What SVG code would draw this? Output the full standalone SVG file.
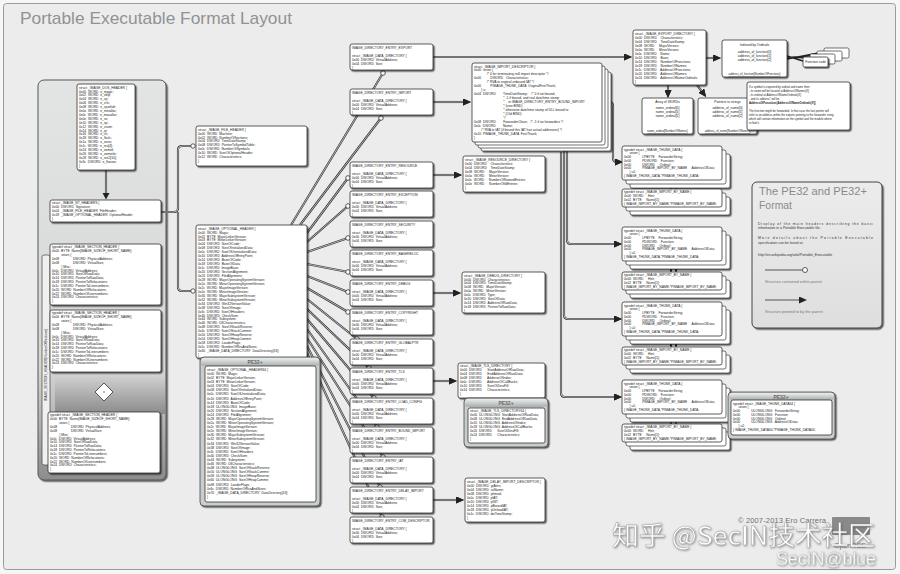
<svg xmlns="http://www.w3.org/2000/svg" width="900" height="574" viewBox="0 0 900 574">
<defs>
<style>
.t{font-family:"Liberation Sans",Arial,sans-serif;font-size:3.3px;fill:#222;white-space:pre}
.ts{font-size:2.8px}
.bx{fill:#fff;stroke:#333;stroke-width:.8}
.sh{filter:url(#sh)}
.ly{fill:#fff;stroke:#333;stroke-width:.7}
.c1{fill:none;stroke:#333;stroke-width:2.1}
.c2{fill:none;stroke:#eee;stroke-width:.7}
.a1{fill:none;stroke:#333;stroke-width:2.1;marker-end:url(#ah)}
.a2{fill:none;stroke:#eee;stroke-width:.7;marker-end:url(#ah)}
.s1{fill:none;stroke:#333;stroke-width:.8;marker-end:url(#as)}
.dt{fill:#fff;stroke:#333;stroke-width:.8}
.pc{fill:#c9cdcd;stroke:#444;stroke-width:.8}
.pt{font-family:"Liberation Sans",Arial,sans-serif;font-size:5px;font-weight:bold;fill:#6a6a6a;text-anchor:middle}
.lg{font-family:"Liberation Sans",Arial,sans-serif;font-size:3.5px;fill:#333}
.ll{font-family:"Liberation Sans",Arial,sans-serif;font-size:3.9px;fill:#777}
</style>
<filter id="sh" x="-10%" y="-10%" width="130%" height="130%"><feDropShadow dx="1.4" dy="1.4" stdDeviation=".6" flood-color="#000" flood-opacity=".6"/></filter>
<filter id="ws" x="-5%" y="-20%" width="110%" height="140%"><feDropShadow dx=".8" dy=".8" stdDeviation=".8" flood-color="#555" flood-opacity=".7"/></filter>
<marker id="ah" markerUnits="userSpaceOnUse" markerWidth="9" markerHeight="7" refX="2" refY="3.5" orient="auto"><path d="M0,0 L8,3.5 L0,7 z" fill="#222"/></marker>
<marker id="as" markerUnits="userSpaceOnUse" markerWidth="4" markerHeight="3" refX="3" refY="1.5" orient="auto"><path d="M0,0 L4,1.5 L0,3 z" fill="#222"/></marker>
<linearGradient id="gp" x1="0" y1="0" x2="0" y2="1"><stop offset="0" stop-color="#e3e5e5"/><stop offset=".72" stop-color="#d5d7d7"/><stop offset="1" stop-color="#8c8c8c"/></linearGradient>
<linearGradient id="gd" x1="0" y1="0" x2="0" y2="1"><stop offset="0" stop-color="#d8d8d8"/><stop offset="1" stop-color="#8a8a8a"/></linearGradient>
<linearGradient id="gh" x1="0" y1="0" x2="0" y2="1"><stop offset="0" stop-color="#eceeee"/><stop offset="1" stop-color="#a9adad"/></linearGradient>
<linearGradient id="gl" x1="0" y1="0" x2="0" y2="1"><stop offset="0" stop-color="#ececec"/><stop offset="1" stop-color="#dedede"/></linearGradient>
</defs>

<rect x="0" y="0" width="900" height="574" fill="#f6f6f6"/>
<rect x="3.5" y="3.5" width="892" height="566" rx="3" fill="#ececec" stroke="#9a9a9a"/>
<text x="20" y="24" font-family="Liberation Sans,Arial,sans-serif" font-size="17" fill="#929292" textLength="272" lengthAdjust="spacingAndGlyphs">Portable Executable Format Layout</text>

<g id="left-panel">
<rect x="38" y="80" width="128" height="400" rx="6" fill="url(#gp)" stroke="#555" class="sh"/>
<rect x="55" y="372" width="110" height="42" fill="url(#gd)"/>
<rect x="42" y="255" width="8" height="210" rx="2" fill="#f0f0f0" stroke="#444" stroke-width=".7"/>
<text class="t" transform="translate(47,365) rotate(-90)" text-anchor="middle">IMAGE_SECTION_HEADER[NumberOfSections]</text>
<path d="M104,383 L113,392 L104,401 L95,392 z" fill="#fff" stroke="#333" stroke-width=".8"/>
<circle cx="104" cy="392" r="1.2" fill="#bbb"/>
</g>

<g id="connectors">
<path class="c1" d="M106,170 V194"/><path class="c2" d="M106,170 V194"/>
<path d="M102.5,193 L109.5,193 L106,199.5 z" fill="#222"/>
<path class="c1" d="M161,212 H174 Q178,212 178,208 V150 Q178,146 182,146 H191"/><path class="c2" d="M161,212 H174 Q178,212 178,208 V150 Q178,146 182,146 H191"/>
<path class="c1" d="M178,212 V287 Q178,291 182,291 H191"/><path class="c2" d="M178,212 V287 Q178,291 182,291 H191"/>
<circle class="dt" cx="193" cy="146" r="2.2"/><circle class="dt" cx="193" cy="291" r="2.2"/>

<path class="c1" d="M291,225 L383,73"/><path class="c2" d="M291,225 L383,73"/>
<path class="c1" d="M300,225 L381,118"/><path class="c2" d="M300,225 L381,118"/>
<path class="c1" d="M307,233 L348,178"/><path class="c2" d="M307,233 L348,178"/>
<path class="c1" d="M307,242 L348,206"/><path class="c2" d="M307,242 L348,206"/>
<path class="c1" d="M307,252 L348,238"/><path class="c2" d="M307,252 L348,238"/>
<path class="c1" d="M307,264 L348,272"/><path class="c2" d="M307,264 L348,272"/>
<path class="c1" d="M307,276 L348,292"/><path class="c2" d="M307,276 L348,292"/>
<path class="c1" d="M307,288 L348,312"/><path class="c2" d="M307,288 L348,312"/>
<path class="c1" d="M307,299 L357,339"/><path class="c2" d="M307,299 L357,339"/>
<path class="c1" d="M307,309 L369,368"/><path class="c2" d="M307,309 L369,368"/>
<path class="c1" d="M307,319 L374,398"/><path class="c2" d="M307,319 L374,398"/>
<path class="c1" d="M307,329 L377,427"/><path class="c2" d="M307,329 L377,427"/>
<path class="c1" d="M307,338 L383,457"/><path class="c2" d="M307,338 L383,457"/>
<path class="c1" d="M307,346 L380,487"/><path class="c2" d="M307,346 L380,487"/>
<path class="c1" d="M307,353 L382,517"/><path class="c2" d="M307,353 L382,517"/>
<circle class="dt" cx="383" cy="73" r="2.3"/><circle class="dt" cx="381" cy="118" r="2.3"/>
<circle class="dt" cx="348" cy="178" r="2.3"/><circle class="dt" cx="348" cy="206" r="2.3"/>
<circle class="dt" cx="348" cy="238" r="2.3"/><circle class="dt" cx="348" cy="272" r="2.3"/>
<circle class="dt" cx="348" cy="292" r="2.3"/><circle class="dt" cx="348" cy="312" r="2.3"/>
<circle class="dt" cx="357" cy="339" r="2.3"/><circle class="dt" cx="369" cy="368" r="2.3"/>
<circle class="dt" cx="374" cy="398" r="2.3"/><circle class="dt" cx="377" cy="427" r="2.3"/>
<circle class="dt" cx="383" cy="457" r="2.3"/><circle class="dt" cx="380" cy="487" r="2.3"/>
<circle class="dt" cx="382" cy="517" r="2.3"/>

<path class="a1" d="M433,57 H626"/><path class="a2" d="M433,57 H626"/>
<path class="a1" d="M433,102 H465"/><path class="a2" d="M433,102 H465"/>
<path class="a1" d="M433,175 H456"/><path class="a2" d="M433,175 H456"/>
<path class="a1" d="M433,293 H455"/><path class="a2" d="M433,293 H455"/>
<path class="a1" d="M433,381 H451"/><path class="a2" d="M433,381 H451"/>
<path class="a1" d="M433,500 H458"/><path class="a2" d="M433,500 H458"/>
<path class="a1" d="M706,58 H715"/><path class="a2" d="M706,58 H715"/>
<path class="a1" d="M668,85 V92"/><path class="a2" d="M668,85 V92"/>
<path class="a1" d="M697,85 L702.5,92.3"/><path class="a2" d="M697,85 L702.5,92.3"/>
<path class="a1" d="M602,102 H609 Q613,102 613,106 V158 Q613,162 617,162"/><path class="a2" d="M602,102 H609 Q613,102 613,106 V158 Q613,162 617,162"/>
<path class="a1" d="M567,146 V240 Q567,244 571,244 H616"/><path class="a2" d="M567,146 V240 Q567,244 571,244 H616"/>
<path class="a1" d="M564,149 V315 Q564,319 568,319 H616"/><path class="a2" d="M564,149 V315 Q564,319 568,319 H616"/>
<path class="a1" d="M561,152 V393 Q561,397 565,397 H616"/><path class="a2" d="M561,152 V393 Q561,397 565,397 H616"/>
<path class="s1" d="M671,183 V189"/><path class="s1" d="M676,183 V189"/>
<path class="s1" d="M671,264 V272"/><path class="s1" d="M676,264 V272"/>
<path class="s1" d="M671,339 V347"/><path class="s1" d="M676,339 V347"/>
<path class="s1" d="M671,417 V424"/><path class="s1" d="M676,417 V424"/>
<path d="M787,56 L803,61 M787,57 L810,58 M787,58 L817,55 M787,59 L824,52" fill="none" stroke="#222" stroke-width="1.5"/>
</g>

<g id="n-dos"><rect class="bx sh" x="77" y="84" width="58" height="86" rx="2"/>
<text class="t" x="79" y="88.6">struct _IMAGE_DOS_HEADER {<tspan x="79" dy="3.9">0x00  WORD  e_magic;</tspan><tspan x="79" dy="3.9">0x02  WORD  e_cblp;</tspan><tspan x="79" dy="3.9">0x04  WORD  e_cp;</tspan><tspan x="79" dy="3.9">0x06  WORD  e_crlc;</tspan><tspan x="79" dy="3.9">0x08  WORD  e_cparhdr;</tspan><tspan x="79" dy="3.9">0x0a  WORD  e_minalloc;</tspan><tspan x="79" dy="3.9">0x0c  WORD  e_maxalloc;</tspan><tspan x="79" dy="3.9">0x0e  WORD  e_ss;</tspan><tspan x="79" dy="3.9">0x10  WORD  e_sp;</tspan><tspan x="79" dy="3.9">0x12  WORD  e_csum;</tspan><tspan x="79" dy="3.9">0x14  WORD  e_ip;</tspan><tspan x="79" dy="3.9">0x16  WORD  e_cs;</tspan><tspan x="79" dy="3.9">0x18  WORD  e_lfarlc;</tspan><tspan x="79" dy="3.9">0x1a  WORD  e_ovno;</tspan><tspan x="79" dy="3.9">0x1c  WORD  e_res[4];</tspan><tspan x="79" dy="3.9">0x24  WORD  e_oemid;</tspan><tspan x="79" dy="3.9">0x26  WORD  e_oeminfo;</tspan><tspan x="79" dy="3.9">0x28  WORD  e_res2[10];</tspan><tspan x="79" dy="3.9">0x3c  DWORD  e_lfanew;</tspan><tspan x="79" dy="3.9">}</tspan></text></g>

<g id="n-nt"><rect class="bx sh" x="50" y="200" width="111" height="22" rx="2"/>
<text class="t" x="52" y="204.3">struct _IMAGE_NT_HEADERS {<tspan x="52" dy="3.9">0x00  DWORD  Signature;</tspan><tspan x="52" dy="3.9">0x04  _IMAGE_FILE_HEADER  FileHeader;</tspan><tspan x="52" dy="3.9">0x18  _IMAGE_OPTIONAL_HEADER  OptionalHeader;</tspan><tspan x="52" dy="3.9">}</tspan></text></g>

<g id="n-sec1"><rect class="bx sh" x="50" y="244" width="111" height="61" rx="2"/>
<text class="t" x="52" y="248.4">typedef struct _IMAGE_SECTION_HEADER {<tspan x="52" dy="3.85">0x00  BYTE  Name[IMAGE_SIZEOF_SHORT_NAME];</tspan><tspan x="52" dy="3.85">          union {</tspan><tspan x="52" dy="3.85">0x08               DWORD  PhysicalAddress;</tspan><tspan x="52" dy="3.85">0x08               DWORD  VirtualSize;</tspan><tspan x="52" dy="3.85">          } Misc;</tspan><tspan x="52" dy="3.85">0x0c  DWORD  VirtualAddress;</tspan><tspan x="52" dy="3.85">0x10  DWORD  SizeOfRawData;</tspan><tspan x="52" dy="3.85">0x14  DWORD  PointerToRawData;</tspan><tspan x="52" dy="3.85">0x18  DWORD  PointerToRelocations;</tspan><tspan x="52" dy="3.85">0x1c  DWORD  PointerToLinenumbers;</tspan><tspan x="52" dy="3.85">0x20  WORD  NumberOfRelocations;</tspan><tspan x="52" dy="3.85">0x22  WORD  NumberOfLinenumbers;</tspan><tspan x="52" dy="3.85">0x24  DWORD  Characteristics;</tspan><tspan x="52" dy="3.85">}</tspan></text></g>

<g id="n-sec2"><rect class="bx sh" x="50" y="310" width="111" height="62" rx="2"/>
<text class="t" x="52" y="314.4">typedef struct _IMAGE_SECTION_HEADER {<tspan x="52" dy="3.85">0x00  BYTE  Name[IMAGE_SIZEOF_SHORT_NAME];</tspan><tspan x="52" dy="3.85">          union {</tspan><tspan x="52" dy="3.85">0x08               DWORD  PhysicalAddress;</tspan><tspan x="52" dy="3.85">0x08               DWORD  VirtualSize;</tspan><tspan x="52" dy="3.85">          } Misc;</tspan><tspan x="52" dy="3.85">0x0c  DWORD  VirtualAddress;</tspan><tspan x="52" dy="3.85">0x10  DWORD  SizeOfRawData;</tspan><tspan x="52" dy="3.85">0x14  DWORD  PointerToRawData;</tspan><tspan x="52" dy="3.85">0x18  DWORD  PointerToRelocations;</tspan><tspan x="52" dy="3.85">0x1c  DWORD  PointerToLinenumbers;</tspan><tspan x="52" dy="3.85">0x20  WORD  NumberOfRelocations;</tspan><tspan x="52" dy="3.85">0x22  WORD  NumberOfLinenumbers;</tspan><tspan x="52" dy="3.85">0x24  DWORD  Characteristics;</tspan><tspan x="52" dy="3.85">}</tspan></text></g>

<g id="n-sec3"><rect class="bx sh" x="48" y="412" width="112" height="61" rx="2"/>
<text class="t" x="50" y="416.4">typedef struct _IMAGE_SECTION_HEADER {<tspan x="50" dy="3.85">0x00  BYTE  Name[IMAGE_SIZEOF_SHORT_NAME];</tspan><tspan x="50" dy="3.85">          union {</tspan><tspan x="50" dy="3.85">0x08               DWORD  PhysicalAddress;</tspan><tspan x="50" dy="3.85">0x08               DWORD  VirtualSize;</tspan><tspan x="50" dy="3.85">          } Misc;</tspan><tspan x="50" dy="3.85">0x0c  DWORD  VirtualAddress;</tspan><tspan x="50" dy="3.85">0x10  DWORD  SizeOfRawData;</tspan><tspan x="50" dy="3.85">0x14  DWORD  PointerToRawData;</tspan><tspan x="50" dy="3.85">0x18  DWORD  PointerToRelocations;</tspan><tspan x="50" dy="3.85">0x1c  DWORD  PointerToLinenumbers;</tspan><tspan x="50" dy="3.85">0x20  WORD  NumberOfRelocations;</tspan><tspan x="50" dy="3.85">0x22  WORD  NumberOfLinenumbers;</tspan><tspan x="50" dy="3.85">0x24  DWORD  Characteristics;</tspan><tspan x="50" dy="3.85">}</tspan></text></g>

<g id="n-file"><rect class="bx sh" x="196" y="126" width="111" height="40" rx="2"/>
<text class="t" x="198" y="130.6">struct _IMAGE_FILE_HEADER {<tspan x="198" dy="3.95">0x00  WORD  Machine;</tspan><tspan x="198" dy="3.95">0x02  WORD  NumberOfSections;</tspan><tspan x="198" dy="3.95">0x04  DWORD  TimeDateStamp;</tspan><tspan x="198" dy="3.95">0x08  DWORD  PointerToSymbolTable;</tspan><tspan x="198" dy="3.95">0x0c  DWORD  NumberOfSymbols;</tspan><tspan x="198" dy="3.95">0x10  WORD  SizeOfOptionalHeader;</tspan><tspan x="198" dy="3.95">0x12  WORD  Characteristics;</tspan><tspan x="198" dy="3.95">}</tspan></text></g>

<g id="n-optional"><rect class="bx sh" x="196" y="225" width="111" height="133" rx="2"/>
<text class="t" x="198" y="229.6">struct _IMAGE_OPTIONAL_HEADER {<tspan x="198" dy="3.95">0x00  WORD  Magic;</tspan><tspan x="198" dy="3.95">0x02  BYTE  MajorLinkerVersion;</tspan><tspan x="198" dy="3.95">0x03  BYTE  MinorLinkerVersion;</tspan><tspan x="198" dy="3.95">0x04  DWORD  SizeOfCode;</tspan><tspan x="198" dy="3.95">0x08  DWORD  SizeOfInitializedData;</tspan><tspan x="198" dy="3.95">0x0c  DWORD  SizeOfUninitializedData;</tspan><tspan x="198" dy="3.95">0x10  DWORD  AddressOfEntryPoint;</tspan><tspan x="198" dy="3.95">0x14  DWORD  BaseOfCode;</tspan><tspan x="198" dy="3.95">0x18  DWORD  BaseOfData;</tspan><tspan x="198" dy="3.95">0x1c  DWORD  ImageBase;</tspan><tspan x="198" dy="3.95">0x20  DWORD  SectionAlignment;</tspan><tspan x="198" dy="3.95">0x24  DWORD  FileAlignment;</tspan><tspan x="198" dy="3.95">0x28  WORD  MajorOperatingSystemVersion;</tspan><tspan x="198" dy="3.95">0x2a  WORD  MinorOperatingSystemVersion;</tspan><tspan x="198" dy="3.95">0x2c  WORD  MajorImageVersion;</tspan><tspan x="198" dy="3.95">0x2e  WORD  MinorImageVersion;</tspan><tspan x="198" dy="3.95">0x30  WORD  MajorSubsystemVersion;</tspan><tspan x="198" dy="3.95">0x32  WORD  MinorSubsystemVersion;</tspan><tspan x="198" dy="3.95">0x34  DWORD  Win32VersionValue;</tspan><tspan x="198" dy="3.95">0x38  DWORD  SizeOfImage;</tspan><tspan x="198" dy="3.95">0x3c  DWORD  SizeOfHeaders;</tspan><tspan x="198" dy="3.95">0x40  DWORD  CheckSum;</tspan><tspan x="198" dy="3.95">0x44  WORD  Subsystem;</tspan><tspan x="198" dy="3.95">0x46  WORD  DllCharacteristics;</tspan><tspan x="198" dy="3.95">0x48  DWORD  SizeOfStackReserve;</tspan><tspan x="198" dy="3.95">0x4c  DWORD  SizeOfStackCommit;</tspan><tspan x="198" dy="3.95">0x50  DWORD  SizeOfHeapReserve;</tspan><tspan x="198" dy="3.95">0x54  DWORD  SizeOfHeapCommit;</tspan><tspan x="198" dy="3.95">0x58  DWORD  LoaderFlags;</tspan><tspan x="198" dy="3.95">0x5c  DWORD  NumberOfRvaAndSizes;</tspan><tspan x="198" dy="3.95">0x60  _IMAGE_DATA_DIRECTORY  DataDirectory[16];</tspan><tspan x="198" dy="3.95">}</tspan></text></g>

<g id="n-optional64"><rect class="pc sh" x="200" y="357" width="120" height="149" rx="4"/>
<rect x="201" y="358" width="118" height="8" rx="3" fill="url(#gh)"/>
<text class="pt" x="255" y="364">PE32+</text>
<rect class="bx" x="205" y="366" width="111" height="136" rx="2"/>
<text class="t" x="207" y="370.8">struct _IMAGE_OPTIONAL_HEADER64 {<tspan x="207" dy="4.1">0x00  WORD  Magic;</tspan><tspan x="207" dy="4.1">0x02  BYTE  MajorLinkerVersion;</tspan><tspan x="207" dy="4.1">0x03  BYTE  MinorLinkerVersion;</tspan><tspan x="207" dy="4.1">0x04  DWORD  SizeOfCode;</tspan><tspan x="207" dy="4.1">0x08  DWORD  SizeOfInitializedData;</tspan><tspan x="207" dy="4.1">0x0c  DWORD  SizeOfUninitializedData;</tspan><tspan x="207" dy="4.1">0x10  DWORD  AddressOfEntryPoint;</tspan><tspan x="207" dy="4.1">0x14  DWORD  BaseOfCode;</tspan><tspan x="207" dy="4.1">0x18  ULONGLONG  ImageBase;</tspan><tspan x="207" dy="4.1">0x20  DWORD  SectionAlignment;</tspan><tspan x="207" dy="4.1">0x24  DWORD  FileAlignment;</tspan><tspan x="207" dy="4.1">0x28  WORD  MajorOperatingSystemVersion;</tspan><tspan x="207" dy="4.1">0x2a  WORD  MinorOperatingSystemVersion;</tspan><tspan x="207" dy="4.1">0x2c  WORD  MajorImageVersion;</tspan><tspan x="207" dy="4.1">0x2e  WORD  MinorImageVersion;</tspan><tspan x="207" dy="4.1">0x30  WORD  MajorSubsystemVersion;</tspan><tspan x="207" dy="4.1">0x32  WORD  MinorSubsystemVersion;</tspan><tspan x="207" dy="4.1">0x34  DWORD  Win32VersionValue;</tspan><tspan x="207" dy="4.1">0x38  DWORD  SizeOfImage;</tspan><tspan x="207" dy="4.1">0x3c  DWORD  SizeOfHeaders;</tspan><tspan x="207" dy="4.1">0x40  DWORD  CheckSum;</tspan><tspan x="207" dy="4.1">0x44  WORD  Subsystem;</tspan><tspan x="207" dy="4.1">0x46  WORD  DllCharacteristics;</tspan><tspan x="207" dy="4.1">0x48  ULONGLONG  SizeOfStackReserve;</tspan><tspan x="207" dy="4.1">0x50  ULONGLONG  SizeOfStackCommit;</tspan><tspan x="207" dy="4.1">0x58  ULONGLONG  SizeOfHeapReserve;</tspan><tspan x="207" dy="4.1">0x60  ULONGLONG  SizeOfHeapCommit;</tspan><tspan x="207" dy="4.1">0x68  DWORD  LoaderFlags;</tspan><tspan x="207" dy="4.1">0x6c  DWORD  NumberOfRvaAndSizes;</tspan><tspan x="207" dy="4.1">0x70  _IMAGE_DATA_DIRECTORY  DataDirectory[16];</tspan><tspan x="207" dy="4.1">}</tspan></text></g>

<g id="dd-export"><rect class="bx sh" x="350" y="44" width="83" height="26" rx="2"/><text class="t" x="352" y="49">IMAGE_DIRECTORY_ENTRY_EXPORT<tspan x="352" dy="7.5">struct _IMAGE_DATA_DIRECTORY {</tspan><tspan x="352" dy="4">0x00  DWORD  VirtualAddress;</tspan><tspan x="352" dy="4">0x04  DWORD  Size;</tspan><tspan x="352" dy="4">}</tspan></text></g>
<g id="dd-import"><rect class="bx sh" x="350" y="89" width="83" height="26" rx="2"/><text class="t" x="352" y="94">IMAGE_DIRECTORY_ENTRY_IMPORT<tspan x="352" dy="7.5">struct _IMAGE_DATA_DIRECTORY {</tspan><tspan x="352" dy="4">0x00  DWORD  VirtualAddress;</tspan><tspan x="352" dy="4">0x04  DWORD  Size;</tspan><tspan x="352" dy="4">}</tspan></text></g>
<g id="dd-resource"><rect class="bx sh" x="350" y="162" width="83" height="26" rx="2"/><text class="t" x="352" y="167">IMAGE_DIRECTORY_ENTRY_RESOURCE<tspan x="352" dy="7.5">struct _IMAGE_DATA_DIRECTORY {</tspan><tspan x="352" dy="4">0x00  DWORD  VirtualAddress;</tspan><tspan x="352" dy="4">0x04  DWORD  Size;</tspan><tspan x="352" dy="4">}</tspan></text></g>
<g id="dd-exception"><rect class="bx sh" x="350" y="191" width="83" height="26" rx="2"/><text class="t" x="352" y="196">IMAGE_DIRECTORY_ENTRY_EXCEPTION<tspan x="352" dy="7.5">struct _IMAGE_DATA_DIRECTORY {</tspan><tspan x="352" dy="4">0x00  DWORD  VirtualAddress;</tspan><tspan x="352" dy="4">0x04  DWORD  Size;</tspan><tspan x="352" dy="4">}</tspan></text></g>
<g id="dd-security"><rect class="bx sh" x="350" y="221" width="83" height="26" rx="2"/><text class="t" x="352" y="226">IMAGE_DIRECTORY_ENTRY_SECURITY<tspan x="352" dy="7.5">struct _IMAGE_DATA_DIRECTORY {</tspan><tspan x="352" dy="4">0x00  DWORD  VirtualAddress;</tspan><tspan x="352" dy="4">0x04  DWORD  Size;</tspan><tspan x="352" dy="4">}</tspan></text></g>
<g id="dd-basereloc"><rect class="bx sh" x="350" y="250" width="83" height="26" rx="2"/><text class="t" x="352" y="255">IMAGE_DIRECTORY_ENTRY_BASERELOC<tspan x="352" dy="7.5">struct _IMAGE_DATA_DIRECTORY {</tspan><tspan x="352" dy="4">0x00  DWORD  VirtualAddress;</tspan><tspan x="352" dy="4">0x04  DWORD  Size;</tspan><tspan x="352" dy="4">}</tspan></text></g>
<g id="dd-debug"><rect class="bx sh" x="350" y="280" width="83" height="26" rx="2"/><text class="t" x="352" y="285">IMAGE_DIRECTORY_ENTRY_DEBUG<tspan x="352" dy="7.5">struct _IMAGE_DATA_DIRECTORY {</tspan><tspan x="352" dy="4">0x00  DWORD  VirtualAddress;</tspan><tspan x="352" dy="4">0x04  DWORD  Size;</tspan><tspan x="352" dy="4">}</tspan></text></g>
<g id="dd-copyright"><rect class="bx sh" x="350" y="309" width="83" height="26" rx="2"/><text class="t" x="352" y="314">IMAGE_DIRECTORY_ENTRY_COPYRIGHT<tspan x="352" dy="7.5">struct _IMAGE_DATA_DIRECTORY {</tspan><tspan x="352" dy="4">0x00  DWORD  VirtualAddress;</tspan><tspan x="352" dy="4">0x04  DWORD  Size;</tspan><tspan x="352" dy="4">}</tspan></text></g>
<g id="dd-globalptr"><rect class="bx sh" x="350" y="339" width="83" height="26" rx="2"/><text class="t" x="352" y="344">IMAGE_DIRECTORY_ENTRY_GLOBALPTR<tspan x="352" dy="7.5">struct _IMAGE_DATA_DIRECTORY {</tspan><tspan x="352" dy="4">0x00  DWORD  VirtualAddress;</tspan><tspan x="352" dy="4">0x04  DWORD  Size;</tspan><tspan x="352" dy="4">}</tspan></text></g>
<g id="dd-tls"><rect class="bx sh" x="350" y="368" width="83" height="26" rx="2"/><text class="t" x="352" y="373">IMAGE_DIRECTORY_ENTRY_TLS<tspan x="352" dy="7.5">struct _IMAGE_DATA_DIRECTORY {</tspan><tspan x="352" dy="4">0x00  DWORD  VirtualAddress;</tspan><tspan x="352" dy="4">0x04  DWORD  Size;</tspan><tspan x="352" dy="4">}</tspan></text></g>
<g id="dd-loadconfig"><rect class="bx sh" x="350" y="398" width="83" height="26" rx="2"/><text class="t" x="352" y="403">IMAGE_DIRECTORY_ENTRY_LOAD_CONFIG<tspan x="352" dy="7.5">struct _IMAGE_DATA_DIRECTORY {</tspan><tspan x="352" dy="4">0x00  DWORD  VirtualAddress;</tspan><tspan x="352" dy="4">0x04  DWORD  Size;</tspan><tspan x="352" dy="4">}</tspan></text></g>
<g id="dd-boundimport"><rect class="bx sh" x="350" y="427" width="83" height="26" rx="2"/><text class="t" x="352" y="432">IMAGE_DIRECTORY_ENTRY_BOUND_IMPORT<tspan x="352" dy="7.5">struct _IMAGE_DATA_DIRECTORY {</tspan><tspan x="352" dy="4">0x00  DWORD  VirtualAddress;</tspan><tspan x="352" dy="4">0x04  DWORD  Size;</tspan><tspan x="352" dy="4">}</tspan></text></g>
<g id="dd-iat"><rect class="bx sh" x="350" y="457" width="83" height="26" rx="2"/><text class="t" x="352" y="462">IMAGE_DIRECTORY_ENTRY_IAT<tspan x="352" dy="7.5">struct _IMAGE_DATA_DIRECTORY {</tspan><tspan x="352" dy="4">0x00  DWORD  VirtualAddress;</tspan><tspan x="352" dy="4">0x04  DWORD  Size;</tspan><tspan x="352" dy="4">}</tspan></text></g>
<g id="dd-delayimport"><rect class="bx sh" x="350" y="487" width="83" height="26" rx="2"/><text class="t" x="352" y="492">IMAGE_DIRECTORY_ENTRY_DELAY_IMPORT<tspan x="352" dy="7.5">struct _IMAGE_DATA_DIRECTORY {</tspan><tspan x="352" dy="4">0x00  DWORD  VirtualAddress;</tspan><tspan x="352" dy="4">0x04  DWORD  Size;</tspan><tspan x="352" dy="4">}</tspan></text></g>
<g id="dd-comdescriptor"><rect class="bx sh" x="350" y="517" width="83" height="26" rx="2"/><text class="t" x="352" y="522">IMAGE_DIRECTORY_ENTRY_COM_DESCRIPTOR<tspan x="352" dy="7.5">struct _IMAGE_DATA_DIRECTORY {</tspan><tspan x="352" dy="4">0x00  DWORD  VirtualAddress;</tspan><tspan x="352" dy="4">0x04  DWORD  Size;</tspan><tspan x="352" dy="4">}</tspan></text></g>

<g id="n-import-descriptor">
<rect class="ly sh" x="481" y="72" width="130" height="79" rx="2"/>
<rect class="ly" x="478" y="69" width="130" height="79" rx="2"/>
<rect class="ly" x="475" y="66" width="130" height="79" rx="2"/>
<rect class="bx" x="472" y="63" width="130" height="79" rx="2"/>
<text class="t" x="474" y="67.5">struct _IMAGE_IMPORT_DESCRIPTOR {<tspan x="474" dy="3.95">0x00  union {</tspan><tspan x="474" dy="3.95">              /* 0 for terminating null import descriptor */</tspan><tspan x="474" dy="3.95">0x00          DWORD   Characteristics;</tspan><tspan x="474" dy="3.95">              /* RVA to original unbound IAT */</tspan><tspan x="474" dy="3.95">0x00          PIMAGE_THUNK_DATA  OriginalFirstThunk;</tspan><tspan x="474" dy="3.95">        } u;</tspan><tspan x="474" dy="3.95">0x04  DWORD        TimeDateStamp;    /* 0 if not bound,</tspan><tspan x="474" dy="3.95">                                * -1 if bound, and real date/time stamp</tspan><tspan x="474" dy="3.95">                                *    in IMAGE_DIRECTORY_ENTRY_BOUND_IMPORT</tspan><tspan x="474" dy="3.95">                                * (new BIND)</tspan><tspan x="474" dy="3.95">                                * otherwise date/time stamp of DLL bound to</tspan><tspan x="474" dy="3.95">                                * (Old BIND)</tspan><tspan x="474" dy="3.95">                                */</tspan><tspan x="474" dy="3.95">0x08  DWORD        ForwarderChain;   /* -1 if no forwarders */</tspan><tspan x="474" dy="3.95">0x0c  DWORD        Name;</tspan><tspan x="474" dy="3.95">        /* RVA to IAT (if bound this IAT has actual addresses) */</tspan><tspan x="474" dy="3.95">0x10  PIMAGE_THUNK_DATA  FirstThunk;</tspan><tspan x="474" dy="3.95">}</tspan></text>
</g>

<g id="n-export-directory"><rect class="bx sh" x="633" y="30" width="73" height="55" rx="2"/>
<text class="t" x="635" y="34.6">struct _IMAGE_EXPORT_DIRECTORY {<tspan x="635" dy="4.05">0x00  DWORD    Characteristics;</tspan><tspan x="635" dy="4.05">0x04  DWORD    TimeDateStamp;</tspan><tspan x="635" dy="4.05">0x08  WORD     MajorVersion;</tspan><tspan x="635" dy="4.05">0x0a  WORD     MinorVersion;</tspan><tspan x="635" dy="4.05">0x0c  DWORD    Name;</tspan><tspan x="635" dy="4.05">0x10  DWORD    Base;</tspan><tspan x="635" dy="4.05">0x14  DWORD    NumberOfFunctions;</tspan><tspan x="635" dy="4.05">0x18  DWORD    NumberOfNames;</tspan><tspan x="635" dy="4.05">0x1c  DWORD    AddressOfFunctions;</tspan><tspan x="635" dy="4.05">0x20  DWORD    AddressOfNames;</tspan><tspan x="635" dy="4.05">0x24  DWORD    AddressOfNameOrdinals;</tspan><tspan x="635" dy="4.05">}</tspan></text></g>

<g id="n-functions"><rect class="bx sh" x="722" y="40" width="65" height="37" rx="2"/>
<text class="t" x="754.5" y="45.5" text-anchor="middle">Indexed by Ordinals</text>
<text class="t" x="754.5" y="53" text-anchor="middle">address_of_function[0]<tspan x="754.5" dy="4">address_of_function[1]</tspan><tspan x="754.5" dy="4">address_of_function[2]</tspan></text>
<text class="t ts" x="754.5" y="75" text-anchor="middle" text-decoration="underline">address_of_function[NumberOfFunctions]</text></g>

<g id="n-function-code">
<rect class="ly" x="824" y="48" width="25" height="10" rx="1.5"/>
<rect class="ly" x="817" y="51" width="25" height="10" rx="1.5"/>
<rect class="ly" x="810" y="54" width="25" height="10" rx="1.5"/>
<rect class="bx sh" x="803" y="57" width="25" height="10" rx="1.5"/>
<text class="t" x="815.5" y="63.2" text-anchor="middle">Function code</text></g>

<g id="n-ordinals"><rect class="bx sh" x="642" y="98" width="51" height="36" rx="2"/>
<text class="t" x="667.5" y="102.5" text-anchor="middle">Array of WORDs<tspan x="667.5" dy="6">name_ordinal[0]</tspan><tspan x="667.5" dy="4">name_ordinal[1]</tspan><tspan x="667.5" dy="4">name_ordinal[2]</tspan></text>
<text class="t ts" x="667.5" y="132.2" text-anchor="middle" text-decoration="underline">name_ordinal[NumberOfNames]</text></g>

<g id="n-names"><rect class="bx sh" x="698" y="98" width="59" height="36" rx="2"/>
<text class="t" x="727.5" y="102.5" text-anchor="middle">Pointers to strings<tspan x="727.5" dy="6">address_of_name[0]</tspan><tspan x="727.5" dy="4">address_of_name[1]</tspan><tspan x="727.5" dy="4">address_of_name[2]</tspan></text>
<text class="t ts" x="727.5" y="132.2" text-anchor="middle" text-decoration="underline">address_of_name[NumberOfNames]</text></g>

<g id="n-note"><rect class="bx sh" x="747" y="82" width="103" height="48" rx="2"/>
<text class="t ts" x="749" y="88">If a symbol is exported by ordinal and name then:<tspan x="749" dy="4">- its name will be located at AddressOfNames[X]</tspan><tspan x="749" dy="4">- its ordinal at AddressOfNameOrdinals[X]</tspan><tspan x="749" dy="4">- and its address* will be</tspan><tspan x="749" dy="4" font-weight="bold">AddressOfFunctions[AddressOfNameOrdinals[X]]</tspan><tspan x="749" dy="8">The function might be forwarded. In that case the last pointer will</tspan><tspan x="749" dy="4">refer to an address within the exports pointing to the forwarder string</tspan><tspan x="749" dy="4">which will contain information on the symbol and the module where</tspan><tspan x="749" dy="4">to find it.</tspan></text></g>

<g id="n-thunk1">
<rect class="ly sh" x="630" y="154" width="100" height="34" rx="2"/><rect class="ly" x="626" y="150" width="100" height="34" rx="2"/><rect class="bx" x="622" y="146" width="100" height="34" rx="2"/>
<text class="t" x="624" y="150.6">typedef struct _IMAGE_THUNK_DATA {<tspan x="624" dy="3.75">      union {</tspan><tspan x="624" dy="3.75">0x00            LPBYTE    ForwarderString;</tspan><tspan x="624" dy="3.75">0x00            PDWORD    Function;</tspan><tspan x="624" dy="3.75">0x00            DWORD     Ordinal;</tspan><tspan x="624" dy="3.75">0x00            PIMAGE_IMPORT_BY_NAME     AddressOfData;</tspan><tspan x="624" dy="3.75">      } u1;</tspan><tspan x="624" dy="3.75">} IMAGE_THUNK_DATA,*PIMAGE_THUNK_DATA;</tspan></text></g>
<g id="n-ibn1">
<rect class="ly sh" x="630" y="197" width="100" height="18" rx="2"/><rect class="ly" x="626" y="193" width="100" height="18" rx="2"/><rect class="bx" x="622" y="189" width="100" height="18" rx="2"/>
<text class="t" x="624" y="193.4">typedef struct _IMAGE_IMPORT_BY_NAME {<tspan x="624" dy="3.8">0x00  WORD     Hint;</tspan><tspan x="624" dy="3.8">0x02  BYTE     Name[1];</tspan><tspan x="624" dy="3.8">} IMAGE_IMPORT_BY_NAME,*PIMAGE_IMPORT_BY_NAME;</tspan></text></g>

<g id="n-thunk2">
<rect class="ly sh" x="630" y="235" width="100" height="34" rx="2"/><rect class="ly" x="626" y="231" width="100" height="34" rx="2"/><rect class="bx" x="622" y="227" width="100" height="34" rx="2"/>
<text class="t" x="624" y="231.6">typedef struct _IMAGE_THUNK_DATA {<tspan x="624" dy="3.75">      union {</tspan><tspan x="624" dy="3.75">0x00            LPBYTE    ForwarderString;</tspan><tspan x="624" dy="3.75">0x00            PDWORD    Function;</tspan><tspan x="624" dy="3.75">0x00            DWORD     Ordinal;</tspan><tspan x="624" dy="3.75">0x00            PIMAGE_IMPORT_BY_NAME     AddressOfData;</tspan><tspan x="624" dy="3.75">      } u1;</tspan><tspan x="624" dy="3.75">} IMAGE_THUNK_DATA,*PIMAGE_THUNK_DATA;</tspan></text></g>
<g id="n-ibn2">
<rect class="ly sh" x="630" y="280" width="100" height="18" rx="2"/><rect class="ly" x="626" y="276" width="100" height="18" rx="2"/><rect class="bx" x="622" y="272" width="100" height="18" rx="2"/>
<text class="t" x="624" y="276.4">typedef struct _IMAGE_IMPORT_BY_NAME {<tspan x="624" dy="3.8">0x00  WORD     Hint;</tspan><tspan x="624" dy="3.8">0x02  BYTE     Name[1];</tspan><tspan x="624" dy="3.8">} IMAGE_IMPORT_BY_NAME,*PIMAGE_IMPORT_BY_NAME;</tspan></text></g>

<g id="n-thunk3">
<rect class="ly sh" x="630" y="310" width="100" height="34" rx="2"/><rect class="ly" x="626" y="306" width="100" height="34" rx="2"/><rect class="bx" x="622" y="302" width="100" height="34" rx="2"/>
<text class="t" x="624" y="306.6">typedef struct _IMAGE_THUNK_DATA {<tspan x="624" dy="3.75">      union {</tspan><tspan x="624" dy="3.75">0x00            LPBYTE    ForwarderString;</tspan><tspan x="624" dy="3.75">0x00            PDWORD    Function;</tspan><tspan x="624" dy="3.75">0x00            DWORD     Ordinal;</tspan><tspan x="624" dy="3.75">0x00            PIMAGE_IMPORT_BY_NAME     AddressOfData;</tspan><tspan x="624" dy="3.75">      } u1;</tspan><tspan x="624" dy="3.75">} IMAGE_THUNK_DATA,*PIMAGE_THUNK_DATA;</tspan></text></g>
<g id="n-ibn3">
<rect class="ly sh" x="630" y="355" width="100" height="18" rx="2"/><rect class="ly" x="626" y="351" width="100" height="18" rx="2"/><rect class="bx" x="622" y="347" width="100" height="18" rx="2"/>
<text class="t" x="624" y="351.4">typedef struct _IMAGE_IMPORT_BY_NAME {<tspan x="624" dy="3.8">0x00  WORD     Hint;</tspan><tspan x="624" dy="3.8">0x02  BYTE     Name[1];</tspan><tspan x="624" dy="3.8">} IMAGE_IMPORT_BY_NAME,*PIMAGE_IMPORT_BY_NAME;</tspan></text></g>

<g id="n-thunk4">
<rect class="ly sh" x="630" y="388" width="100" height="34" rx="2"/><rect class="ly" x="626" y="384" width="100" height="34" rx="2"/><rect class="bx" x="622" y="380" width="100" height="34" rx="2"/>
<text class="t" x="624" y="384.6">typedef struct _IMAGE_THUNK_DATA {<tspan x="624" dy="3.75">      union {</tspan><tspan x="624" dy="3.75">0x00            LPBYTE    ForwarderString;</tspan><tspan x="624" dy="3.75">0x00            PDWORD    Function;</tspan><tspan x="624" dy="3.75">0x00            DWORD     Ordinal;</tspan><tspan x="624" dy="3.75">0x00            PIMAGE_IMPORT_BY_NAME     AddressOfData;</tspan><tspan x="624" dy="3.75">      } u1;</tspan><tspan x="624" dy="3.75">} IMAGE_THUNK_DATA,*PIMAGE_THUNK_DATA;</tspan></text></g>
<g id="n-ibn4">
<rect class="ly sh" x="630" y="432" width="100" height="18" rx="2"/><rect class="ly" x="626" y="428" width="100" height="18" rx="2"/><rect class="bx" x="622" y="424" width="100" height="18" rx="2"/>
<text class="t" x="624" y="428.4">typedef struct _IMAGE_IMPORT_BY_NAME {<tspan x="624" dy="3.8">0x00  WORD     Hint;</tspan><tspan x="624" dy="3.8">0x02  BYTE     Name[1];</tspan><tspan x="624" dy="3.8">} IMAGE_IMPORT_BY_NAME,*PIMAGE_IMPORT_BY_NAME;</tspan></text></g>

<g id="n-thunk64"><rect class="pc sh" x="728" y="392" width="107" height="47" rx="4"/>
<rect x="729" y="393" width="105" height="7" rx="3" fill="url(#gh)"/>
<text class="pt" x="781" y="398.5">PE32+</text>
<rect class="bx" x="731" y="400" width="101" height="35" rx="2"/>
<text class="t" x="733" y="404.6">typedef struct _IMAGE_THUNK_DATA64 {<tspan x="733" dy="3.75">      union {</tspan><tspan x="733" dy="3.75">0x00            ULONGLONG   ForwarderString;</tspan><tspan x="733" dy="3.75">0x00            ULONGLONG   Function;</tspan><tspan x="733" dy="3.75">0x00            ULONGLONG   Ordinal;</tspan><tspan x="733" dy="3.75">0x00            ULONGLONG   AddressOfData;</tspan><tspan x="733" dy="3.75">      } u1;</tspan><tspan x="733" dy="3.75">} IMAGE_THUNK_DATA64,*PIMAGE_THUNK_DATA64;</tspan></text></g>

<g id="n-resource-directory"><rect class="bx sh" x="463" y="156" width="82" height="36" rx="2"/>
<text class="t" x="465" y="160.6">struct _IMAGE_RESOURCE_DIRECTORY {<tspan x="465" dy="4.1">0x00  DWORD    Characteristics;</tspan><tspan x="465" dy="4.1">0x04  DWORD    TimeDateStamp;</tspan><tspan x="465" dy="4.1">0x08  WORD     MajorVersion;</tspan><tspan x="465" dy="4.1">0x0a  WORD     MinorVersion;</tspan><tspan x="465" dy="4.1">0x0c  WORD     NumberOfNamedEntries;</tspan><tspan x="465" dy="4.1">0x0e  WORD     NumberOfIdEntries;</tspan><tspan x="465" dy="4.1">}</tspan></text></g>

<g id="n-debug-directory"><rect class="bx sh" x="462" y="272" width="83" height="41" rx="2"/>
<text class="t" x="464" y="276.6">struct _IMAGE_DEBUG_DIRECTORY {<tspan x="464" dy="3.9">0x00  DWORD  Characteristics;</tspan><tspan x="464" dy="3.9">0x04  DWORD  TimeDateStamp;</tspan><tspan x="464" dy="3.9">0x08  WORD   MajorVersion;</tspan><tspan x="464" dy="3.9">0x0a  WORD   MinorVersion;</tspan><tspan x="464" dy="3.9">0x0c  DWORD  Type;</tspan><tspan x="464" dy="3.9">0x10  DWORD  SizeOfData;</tspan><tspan x="464" dy="3.9">0x14  DWORD  AddressOfRawData;</tspan><tspan x="464" dy="3.9">0x18  DWORD  PointerToRawData;</tspan><tspan x="464" dy="3.9">}</tspan></text></g>

<g id="n-tls-directory"><rect class="bx sh" x="458" y="363" width="87" height="35" rx="2"/>
<text class="t" x="460" y="367.4">struct _IMAGE_TLS_DIRECTORY {<tspan x="460" dy="3.95">0x00  DWORD      StartAddressOfRawData;</tspan><tspan x="460" dy="3.95">0x04  DWORD      EndAddressOfRawData;</tspan><tspan x="460" dy="3.95">0x08  DWORD      AddressOfIndex;</tspan><tspan x="460" dy="3.95">0x0c  DWORD      AddressOfCallBacks;</tspan><tspan x="460" dy="3.95">0x10  DWORD      SizeOfZeroFill;</tspan><tspan x="460" dy="3.95">0x14  DWORD      Characteristics;</tspan><tspan x="460" dy="3.95">}</tspan></text></g>

<g id="n-tls-directory64"><rect class="pc sh" x="464" y="398" width="84" height="49" rx="4"/>
<rect x="465" y="399" width="82" height="8" rx="3" fill="url(#gh)"/>
<text class="pt" x="506" y="405">PE32+</text>
<rect class="bx" x="468" y="408" width="77" height="35" rx="2"/>
<text class="t" x="470" y="412.4">struct _IMAGE_TLS_DIRECTORY64 {<tspan x="470" dy="3.9">0x00  ULONGLONG  StartAddressOfRawData;</tspan><tspan x="470" dy="3.9">0x08  ULONGLONG  EndAddressOfRawData;</tspan><tspan x="470" dy="3.9">0x10  ULONGLONG  AddressOfIndex;</tspan><tspan x="470" dy="3.9">0x18  ULONGLONG  AddressOfCallBacks;</tspan><tspan x="470" dy="3.9">0x20  DWORD      SizeOfZeroFill;</tspan><tspan x="470" dy="3.9">0x24  DWORD      Characteristics;</tspan><tspan x="470" dy="3.9">}</tspan></text></g>

<g id="n-delay-import"><rect class="bx sh" x="465" y="478" width="80" height="44" rx="2"/>
<text class="t" x="467" y="482.5">struct _IMAGE_DELAY_IMPORT_DESCRIPTOR {<tspan x="467" dy="4.1">0x00  DWORD  grAttrs;</tspan><tspan x="467" dy="4.1">0x04  DWORD  szName;</tspan><tspan x="467" dy="4.1">0x08  DWORD  phmod;</tspan><tspan x="467" dy="4.1">0x0c  DWORD  pIAT;</tspan><tspan x="467" dy="4.1">0x10  DWORD  pINT;</tspan><tspan x="467" dy="4.1">0x14  DWORD  pBoundIAT;</tspan><tspan x="467" dy="4.1">0x18  DWORD  pUnloadIAT;</tspan><tspan x="467" dy="4.1">0x1c  DWORD  dwTimeStamp;</tspan><tspan x="467" dy="4.1">}</tspan></text></g>

<g id="legend">
<rect x="752" y="182" width="130" height="146" rx="5" fill="url(#gl)" stroke="#444" stroke-width="1" class="sh"/>
<text x="759" y="195" font-family="Liberation Sans,Arial,sans-serif" font-size="11" fill="#8a8a8a" textLength="108" lengthAdjust="spacingAndGlyphs">The PE32 and PE32+</text>
<text x="759" y="209" font-family="Liberation Sans,Arial,sans-serif" font-size="11" fill="#8a8a8a" textLength="33" lengthAdjust="spacingAndGlyphs">Format</text>
<text class="lg" x="758" y="224.5" textLength="115">Display of the main headers describing the basic</text>
<text class="lg" x="758" y="229">information in a Portable Executable file.</text>
<text class="lg" x="758" y="239" textLength="115">More details about the Portable Executable</text>
<text class="lg" x="758" y="243.5">specification can be found at:</text>
<text class="lg" x="758" y="256">http://en.wikipedia.org/wiki/Portable_Executable</text>
<path d="M765,270 H802.5" stroke="#555" stroke-width="1.2"/>
<circle class="dt" cx="805" cy="270" r="2.5"/>
<text class="ll" x="765" y="283">Structure contained within parent</text>
<path d="M765,300 H801" stroke="#555" stroke-width="1.2" marker-end="url(#ah)"/>
<text class="ll" x="765" y="313">Structure pointed to by the parent</text>
</g>

<g id="credits">
<text x="738" y="523" font-family="Liberation Sans,Arial,sans-serif" font-size="7.5" fill="#6e6e6e" textLength="88">© 2007-2013 Ero Carrera</text>
<rect x="832" y="517" width="38" height="18" rx="1" fill="#8a8a8a"/>
<text x="834" y="548" font-family="Liberation Sans,Arial,sans-serif" font-size="7" fill="#777">OpenRCE</text>
</g>

<g id="watermark" filter="url(#ws)">
<text x="612" y="545" font-family="Noto Sans CJK SC,sans-serif" font-size="26" fill="#fff" stroke="#9a9a9a" stroke-width=".4" textLength="263" lengthAdjust="spacingAndGlyphs">知乎 @SecIN技术社区</text>
<text x="776" y="565" font-family="Liberation Sans,Arial,sans-serif" font-size="18" fill="#fff" fill-opacity=".9" stroke="#bbb" stroke-width=".3" textLength="100">SecIN@blue</text>
</g>
</svg>
